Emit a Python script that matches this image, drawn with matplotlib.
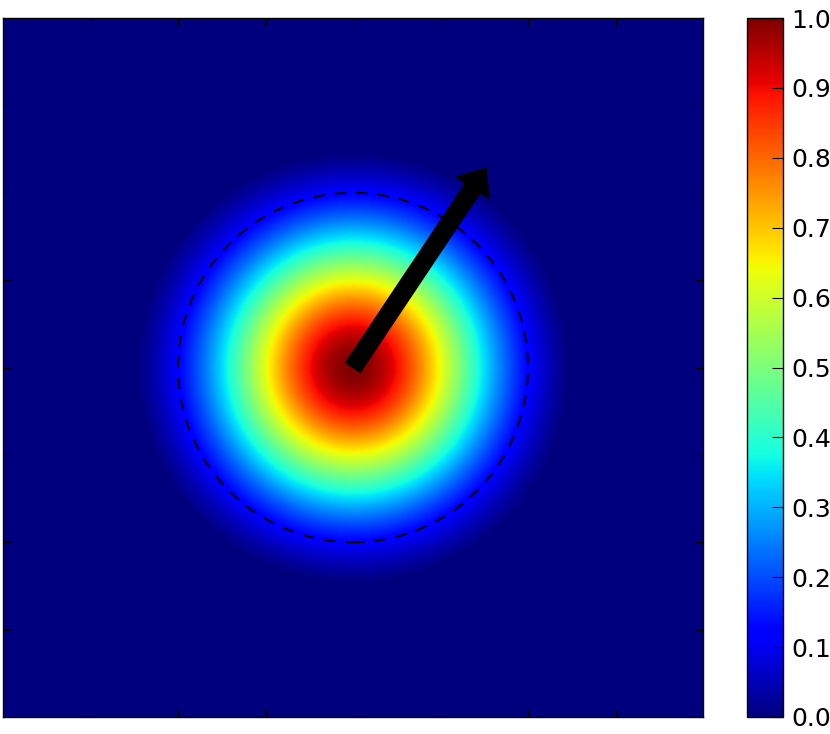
import numpy as np
import matplotlib
matplotlib.use("Agg")
import matplotlib.pyplot as plt
from matplotlib.patches import Circle

# Field parameters
extent_lim = 4.0          # axes span -4..4 on both axes
center = (0.0, 0.0)       # blob centre
sigma = 1.1               # gaussian width
floor = 0.08              # level subtracted before renormalising (tail cut)
circle_radius = 2.0       # dashed circle
arrow_start = (0.0, 0.0)
arrow_delta = (1.52, 2.28)
tick_positions = [-3, -2, -1, 0, 1, 2, 3]
cbar_ticks = [0.0, 0.1, 0.2, 0.3, 0.4, 0.5, 0.6, 0.7, 0.8, 0.9, 1.0]
cbar_labels = ["0.0", "0.1", "0.2", "0.3", "0.4", "0.5", "0.6", "0.7", "0.8", "0.9", "1.0"]

n = 400
xs = np.linspace(-extent_lim, extent_lim, n)
ys = np.linspace(-extent_lim, extent_lim, n)
X, Y = np.meshgrid(xs, ys)
G = np.exp(-((X - center[0])**2 + (Y - center[1])**2) / (2 * sigma**2))
Z = np.clip((G - floor) / (1 - floor), 0, 1)

W, H = 830, 734
fig = plt.figure(figsize=(W / 100, H / 100), dpi=100)
ax = fig.add_axes([3 / W, (H - 717) / H, 700 / W, 699 / H])
im = ax.imshow(Z, cmap="jet", vmin=0, vmax=1, origin="lower",
               extent=[-extent_lim, extent_lim, -extent_lim, extent_lim],
               interpolation="bilinear", aspect="auto")
ax.add_patch(Circle(center, circle_radius, fill=False, ls=(0, (6, 5)),
                    lw=1.4, color="black"))
ax.arrow(arrow_start[0], arrow_start[1], arrow_delta[0], arrow_delta[1],
         width=0.2, head_width=0.45, head_length=0.27,
         length_includes_head=True, color="black")
ax.set_xlim(-extent_lim, extent_lim)
ax.set_ylim(-extent_lim, extent_lim)
ax.set_xticks(tick_positions)
ax.set_yticks(tick_positions)
ax.tick_params(direction="in", top=True, right=True, labelbottom=False,
               labelleft=False, length=6, width=0.8, color="black")
for s in ax.spines.values():
    s.set_linewidth(1.0)

cax = fig.add_axes([747 / W, (H - 717) / H, 36 / W, 699 / H])
cb = fig.colorbar(im, cax=cax)
cb.set_ticks(cbar_ticks)
cb.set_ticklabels(cbar_labels)
cax.tick_params(direction="in", length=8, width=0.8, labelsize=18, pad=6)
cb.outline.set_linewidth(1.0)

fig.savefig("out.png", dpi=100)
